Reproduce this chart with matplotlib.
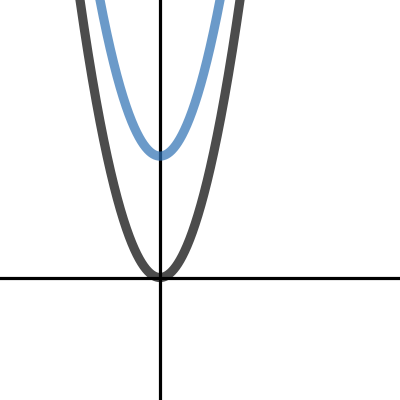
import numpy as np
import matplotlib
matplotlib.use("Agg")
import matplotlib.pyplot as plt

# two parabolas y = x^2 + c
offsets = [0, 7]
colors = ["#000000", "#2d70b3"]

x_range = (-8, 12)
y_range = (-7.06, 16)

fig = plt.figure(figsize=(4, 4), dpi=100)
ax = fig.add_axes([0, 0, 1, 1])

ax.axhline(0, color="black", lw=2.3, zorder=1)
ax.axvline(0, color="black", lw=2.3, zorder=1)

x = np.linspace(-6, 6, 1200)
for c, col in zip(offsets, colors):
    ax.plot(x, x ** 2 + c, color=col, alpha=0.7, lw=6.6, zorder=2,
            solid_capstyle="round")

ax.set_xlim(*x_range)
ax.set_ylim(*y_range)
ax.axis("off")

fig.savefig("out.png", dpi=100, facecolor="white")
